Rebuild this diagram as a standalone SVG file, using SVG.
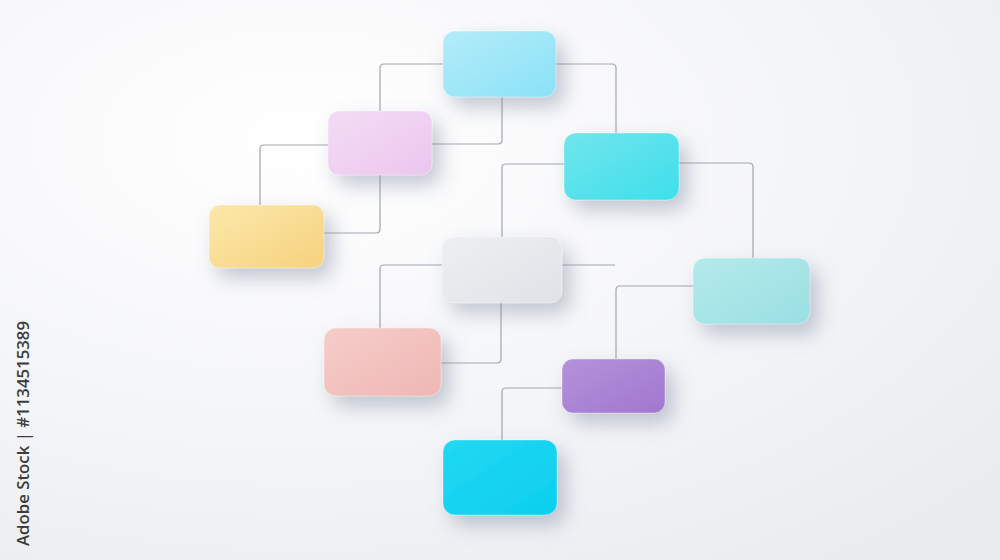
<svg xmlns="http://www.w3.org/2000/svg" width="1000" height="560" viewBox="0 0 1000 560">
  <defs>
    <radialGradient id="bg" cx="0.3" cy="0.25" r="0.95">
      <stop offset="0" stop-color="#ffffff"/>
      <stop offset="0.6" stop-color="#f3f4f7"/>
      <stop offset="1" stop-color="#e9ebef"/>
    </radialGradient>
    <filter id="sh" x="-40%" y="-40%" width="200%" height="220%">
      <feDropShadow dx="8" dy="10" stdDeviation="10" flood-color="#7d869c" flood-opacity="0.45"/>
    </filter>
    <linearGradient id="g1" x1="0" y1="0" x2="1" y2="1"><stop offset="0" stop-color="#b4ecf9"/><stop offset="1" stop-color="#8ae2f7"/></linearGradient>
    <linearGradient id="g2" x1="0" y1="0" x2="1" y2="1"><stop offset="0" stop-color="#f4dcf5"/><stop offset="1" stop-color="#ebc6ee"/></linearGradient>
    <linearGradient id="g3" x1="0" y1="0" x2="1" y2="1"><stop offset="0" stop-color="#72e5ec"/><stop offset="1" stop-color="#3ddfec"/></linearGradient>
    <linearGradient id="g4" x1="0" y1="0" x2="1" y2="1"><stop offset="0" stop-color="#fce8ab"/><stop offset="1" stop-color="#f6d27d"/></linearGradient>
    <linearGradient id="g5" x1="0" y1="0" x2="1" y2="1"><stop offset="0" stop-color="#eeeff2"/><stop offset="1" stop-color="#e0e2e7"/></linearGradient>
    <linearGradient id="g6" x1="0" y1="0" x2="1" y2="1"><stop offset="0" stop-color="#b4eaeb"/><stop offset="1" stop-color="#9adfe3"/></linearGradient>
    <linearGradient id="g7" x1="0" y1="0" x2="1" y2="1"><stop offset="0" stop-color="#f6cdc8"/><stop offset="1" stop-color="#eeb7b6"/></linearGradient>
    <linearGradient id="g8" x1="0" y1="0" x2="1" y2="1"><stop offset="0" stop-color="#b592da"/><stop offset="1" stop-color="#a077cf"/></linearGradient>
    <linearGradient id="g9" x1="0" y1="0" x2="1" y2="1"><stop offset="0" stop-color="#22d8f3"/><stop offset="1" stop-color="#0ccfee"/></linearGradient>
  </defs>
  <style>
    .ln { fill: none; stroke: #a2a5ad; stroke-width: 1.2; stroke-linejoin: round; }
    .nd { filter: url(#sh); stroke: #ffffff; stroke-opacity: 0.35; stroke-width: 1; }
    .wm { font-family: "Open Sans", "Noto Sans", sans-serif; font-size: 16.8px; font-weight: 600; fill: #3c3c3c; }
  </style>
  <rect width="1000" height="560" fill="url(#bg)"/>

  <g id="connectors">
    <path class="ln" d="M443,64 H384 Q380,64 380,68 V111"/>
    <path class="ln" d="M556,64 H612 Q616,64 616,68 V133"/>
    <path class="ln" d="M502,97 V140 Q502,144 498,144 H432"/>
    <path class="ln" d="M328,145 H264 Q260,145 260,149 V205"/>
    <path class="ln" d="M380,175 V229 Q380,233 376,233 H324"/>
    <path class="ln" d="M564,164 H506 Q502,164 502,168 V237"/>
    <path class="ln" d="M679,163 H749 Q753,163 753,167 V258"/>
    <path class="ln" d="M562,265 H615"/>
    <path class="ln" d="M442,265 H384 Q380,265 380,269 V328"/>
    <path class="ln" d="M501,303 V359 Q501,363 497,363 H441"/>
    <path class="ln" d="M693,286 H620 Q616,286 616,290 V359"/>
    <path class="ln" d="M562,388 H506 Q502,388 502,392 V440"/>
  </g>

  <g id="node-top"><rect class="nd" x="443" y="31" width="113" height="66" rx="12" fill="url(#g1)"/></g>
  <g id="node-pink"><rect class="nd" x="328" y="111" width="104" height="64" rx="11" fill="url(#g2)"/></g>
  <g id="node-cyan"><rect class="nd" x="564" y="133" width="115" height="67" rx="12" fill="url(#g3)"/></g>
  <g id="node-yellow"><rect class="nd" x="209" y="205" width="115" height="63" rx="11" fill="url(#g4)"/></g>
  <g id="node-gray"><rect class="nd" x="442" y="237" width="120" height="66" rx="12" fill="url(#g5)"/></g>
  <g id="node-teal"><rect class="nd" x="693" y="258" width="117" height="66" rx="12" fill="url(#g6)"/></g>
  <g id="node-salmon"><rect class="nd" x="324" y="328" width="117" height="68" rx="12" fill="url(#g7)"/></g>
  <g id="node-purple"><rect class="nd" x="562" y="359" width="103" height="54" rx="11" fill="url(#g8)"/></g>
  <g id="node-blue"><rect class="nd" x="443" y="440" width="114" height="75" rx="12" fill="url(#g9)"/></g>

  <text class="wm" transform="translate(29,546) rotate(-90)">Adobe Stock | #1134515389</text>
</svg>
